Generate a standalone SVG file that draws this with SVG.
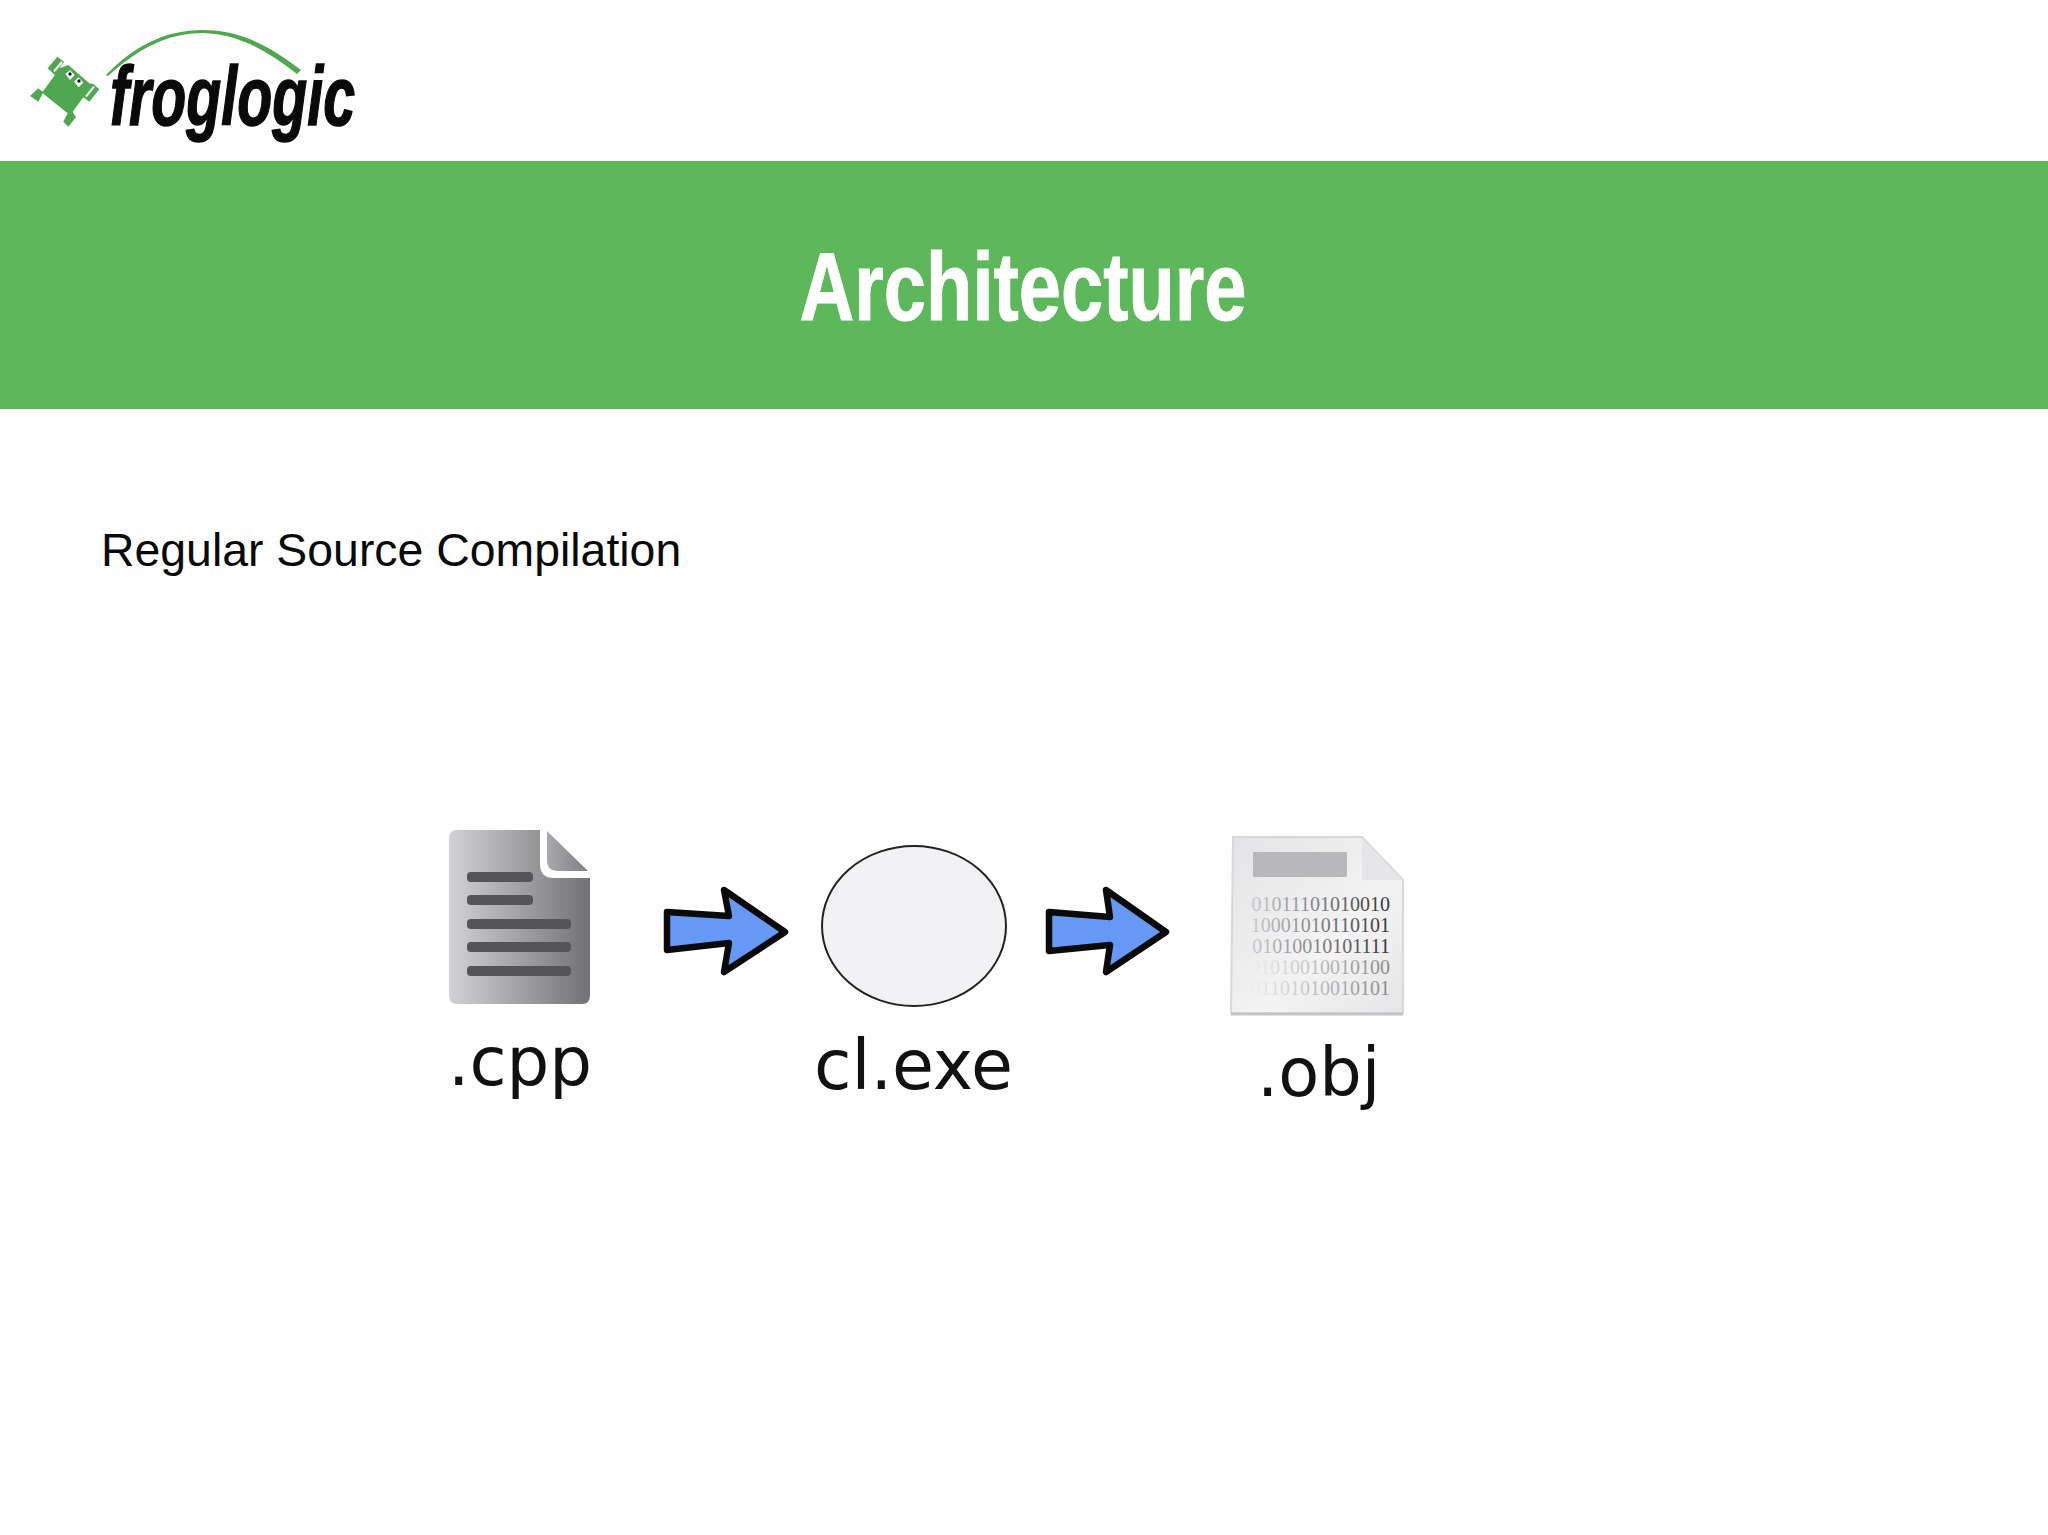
<svg xmlns="http://www.w3.org/2000/svg" width="2048" height="1535" viewBox="0 0 2048 1535">
<style>
.lbl{font-family:"DejaVu Sans",sans-serif;font-size:67px;fill:#111}
.arrow{fill:#6699f5;stroke:#0a0a0a;stroke-width:6.5;stroke-linejoin:round}
.ln{fill:#555558}
.bin{font-family:"Liberation Serif",serif;font-size:20px;text-anchor:end;fill:url(#binG)}
</style>
<defs>
<linearGradient id="docG"><stop offset="0" stop-color="#d2d2d5"/><stop offset="1" stop-color="#727275"/></linearGradient>
<linearGradient id="foldG"><stop offset="0" stop-color="#a9a9ab"/><stop offset="1" stop-color="#808083"/></linearGradient>
<linearGradient id="objG" x1="0" y1="0" x2="1" y2="1"><stop offset="0" stop-color="#e4e4e6"/><stop offset=".6" stop-color="#f3f3f4"/><stop offset="1" stop-color="#e6e6e8"/></linearGradient>
<linearGradient id="binG" gradientUnits="userSpaceOnUse" x1="1253" y1="0" x2="1390" y2="0"><stop offset="0" stop-color="#c8c8cc"/><stop offset="1" stop-color="#333"/></linearGradient>
<linearGradient id="binF" gradientUnits="userSpaceOnUse" x1="1253" y1="0" x2="1390" y2="0"><stop offset="0" stop-color="#eeeef0"/><stop offset="1" stop-color="#888"/></linearGradient>
</defs>
<rect width="2048" height="1535" fill="#fefefe"/>
<g id="logo">
<path d="M106 75C134 46 165 30 203 30C240 30 270 46 301 70L297 74C266 50 238 34 203 33C167 33 138 49 108 76Z" fill="#4fa84f"/>
<g transform="scale(.3333)">
<path fill="#4fa84f" d="M143 205L172 170L192 186L178 205L205 195L268 250L280 252L298 268L268 305L250 292L218 335L228 352L205 380L190 365L203 340L128 280L115 305L90 288L115 265L128 275L165 225Z"/>
<path d="M162 214L186 186M258 290L282 260" stroke="#fff" stroke-width="6" fill="none"/>
<path d="M196 222L210 210L224 226L210 240ZM222 245L236 232L250 248L236 262Z" fill="#fff"/>
<circle cx="210" cy="222" r="5" fill="#111"/><circle cx="237" cy="243" r="5" fill="#111"/>
</g>
<text x="110" y="125" font-family="'Liberation Sans Narrow','Liberation Sans',sans-serif" font-weight="700" font-style="italic" font-size="84" textLength="245" lengthAdjust="spacingAndGlyphs" fill="#0a0a0a" stroke="#0a0a0a" stroke-width="1.5">froglogic</text>
</g>
<g id="banner">
<rect x="0" y="161" width="2048" height="248" fill="#5cb85a"/>
<text x="1023" y="320" text-anchor="middle" font-family="'Liberation Sans Narrow','Liberation Sans',sans-serif" font-weight="700" font-size="97" textLength="447" lengthAdjust="spacingAndGlyphs" fill="#fff" stroke="#fff" stroke-width="1">Architecture</text>
</g>
<text id="subtitle" x="101" y="566" font-family="'Liberation Sans',Arial,sans-serif" font-size="46.4" fill="#0a0a0a">Regular Source Compilation</text>
<g id="cpp">
<path d="M457 830H540V864Q540 878 554 878H590V995Q590 1004 582 1004H457Q449 1004 449 995V838Q449 830 457 830Z" fill="url(#docG)"/>
<path d="M547 831L588 871H558Q547 871 547 860Z" fill="url(#foldG)"/>
<rect class="ln" x="467" y="872" width="66" height="10" rx="4"/>
<rect class="ln" x="467" y="895" width="66" height="10" rx="4"/>
<rect class="ln" x="467" y="919" width="104" height="10" rx="4"/>
<rect class="ln" x="467" y="942" width="104" height="10" rx="4"/>
<rect class="ln" x="467" y="966" width="104" height="10" rx="4"/>
<text class="lbl" x="448" y="1085" textLength="144" lengthAdjust="spacingAndGlyphs">.cpp</text>
</g>
<g id="clexe">
<ellipse cx="914" cy="926" rx="92" ry="80" fill="#f2f1f4" stroke="#222" stroke-width="2"/>
<text class="lbl" x="814" y="1089" textLength="199" lengthAdjust="spacingAndGlyphs" style="font-size:69px">cl.exe</text>
</g>
<g id="obj">
<path d="M1233 837H1362L1403 880V1013H1231Z" fill="url(#objG)" stroke="#d8d8da" stroke-width="2"/>
<path d="M1362 838V880H1403Z" fill="#e6e6e9"/>
<path d="M1231 1014H1403" stroke="#c4c4c7" stroke-width="3"/>
<rect x="1253" y="852" width="94" height="25" fill="#b8b8ba"/>
<text class="bin" x="1390" y="911">01011101010010</text>
<text class="bin" x="1390" y="932">10001010110101</text>
<text class="bin" x="1390" y="953">01010010101111</text>
<text class="bin" x="1390" y="974" style="fill:url(#binF)">01010010010100</text>
<text class="bin" x="1390" y="995" style="fill:url(#binF)">01101010010101</text>
<text class="lbl" x="1257" y="1096">.obj</text>
</g>
<g id="connectors">
<path class="arrow" d="M667 912L729 916L724 890L785 932L724 972L729 943L667 950Z"/>
<path class="arrow" d="M1049 912L1110 917L1106 890L1166 932L1106 972L1110 945L1049 951Z"/>
</g>
</svg>
